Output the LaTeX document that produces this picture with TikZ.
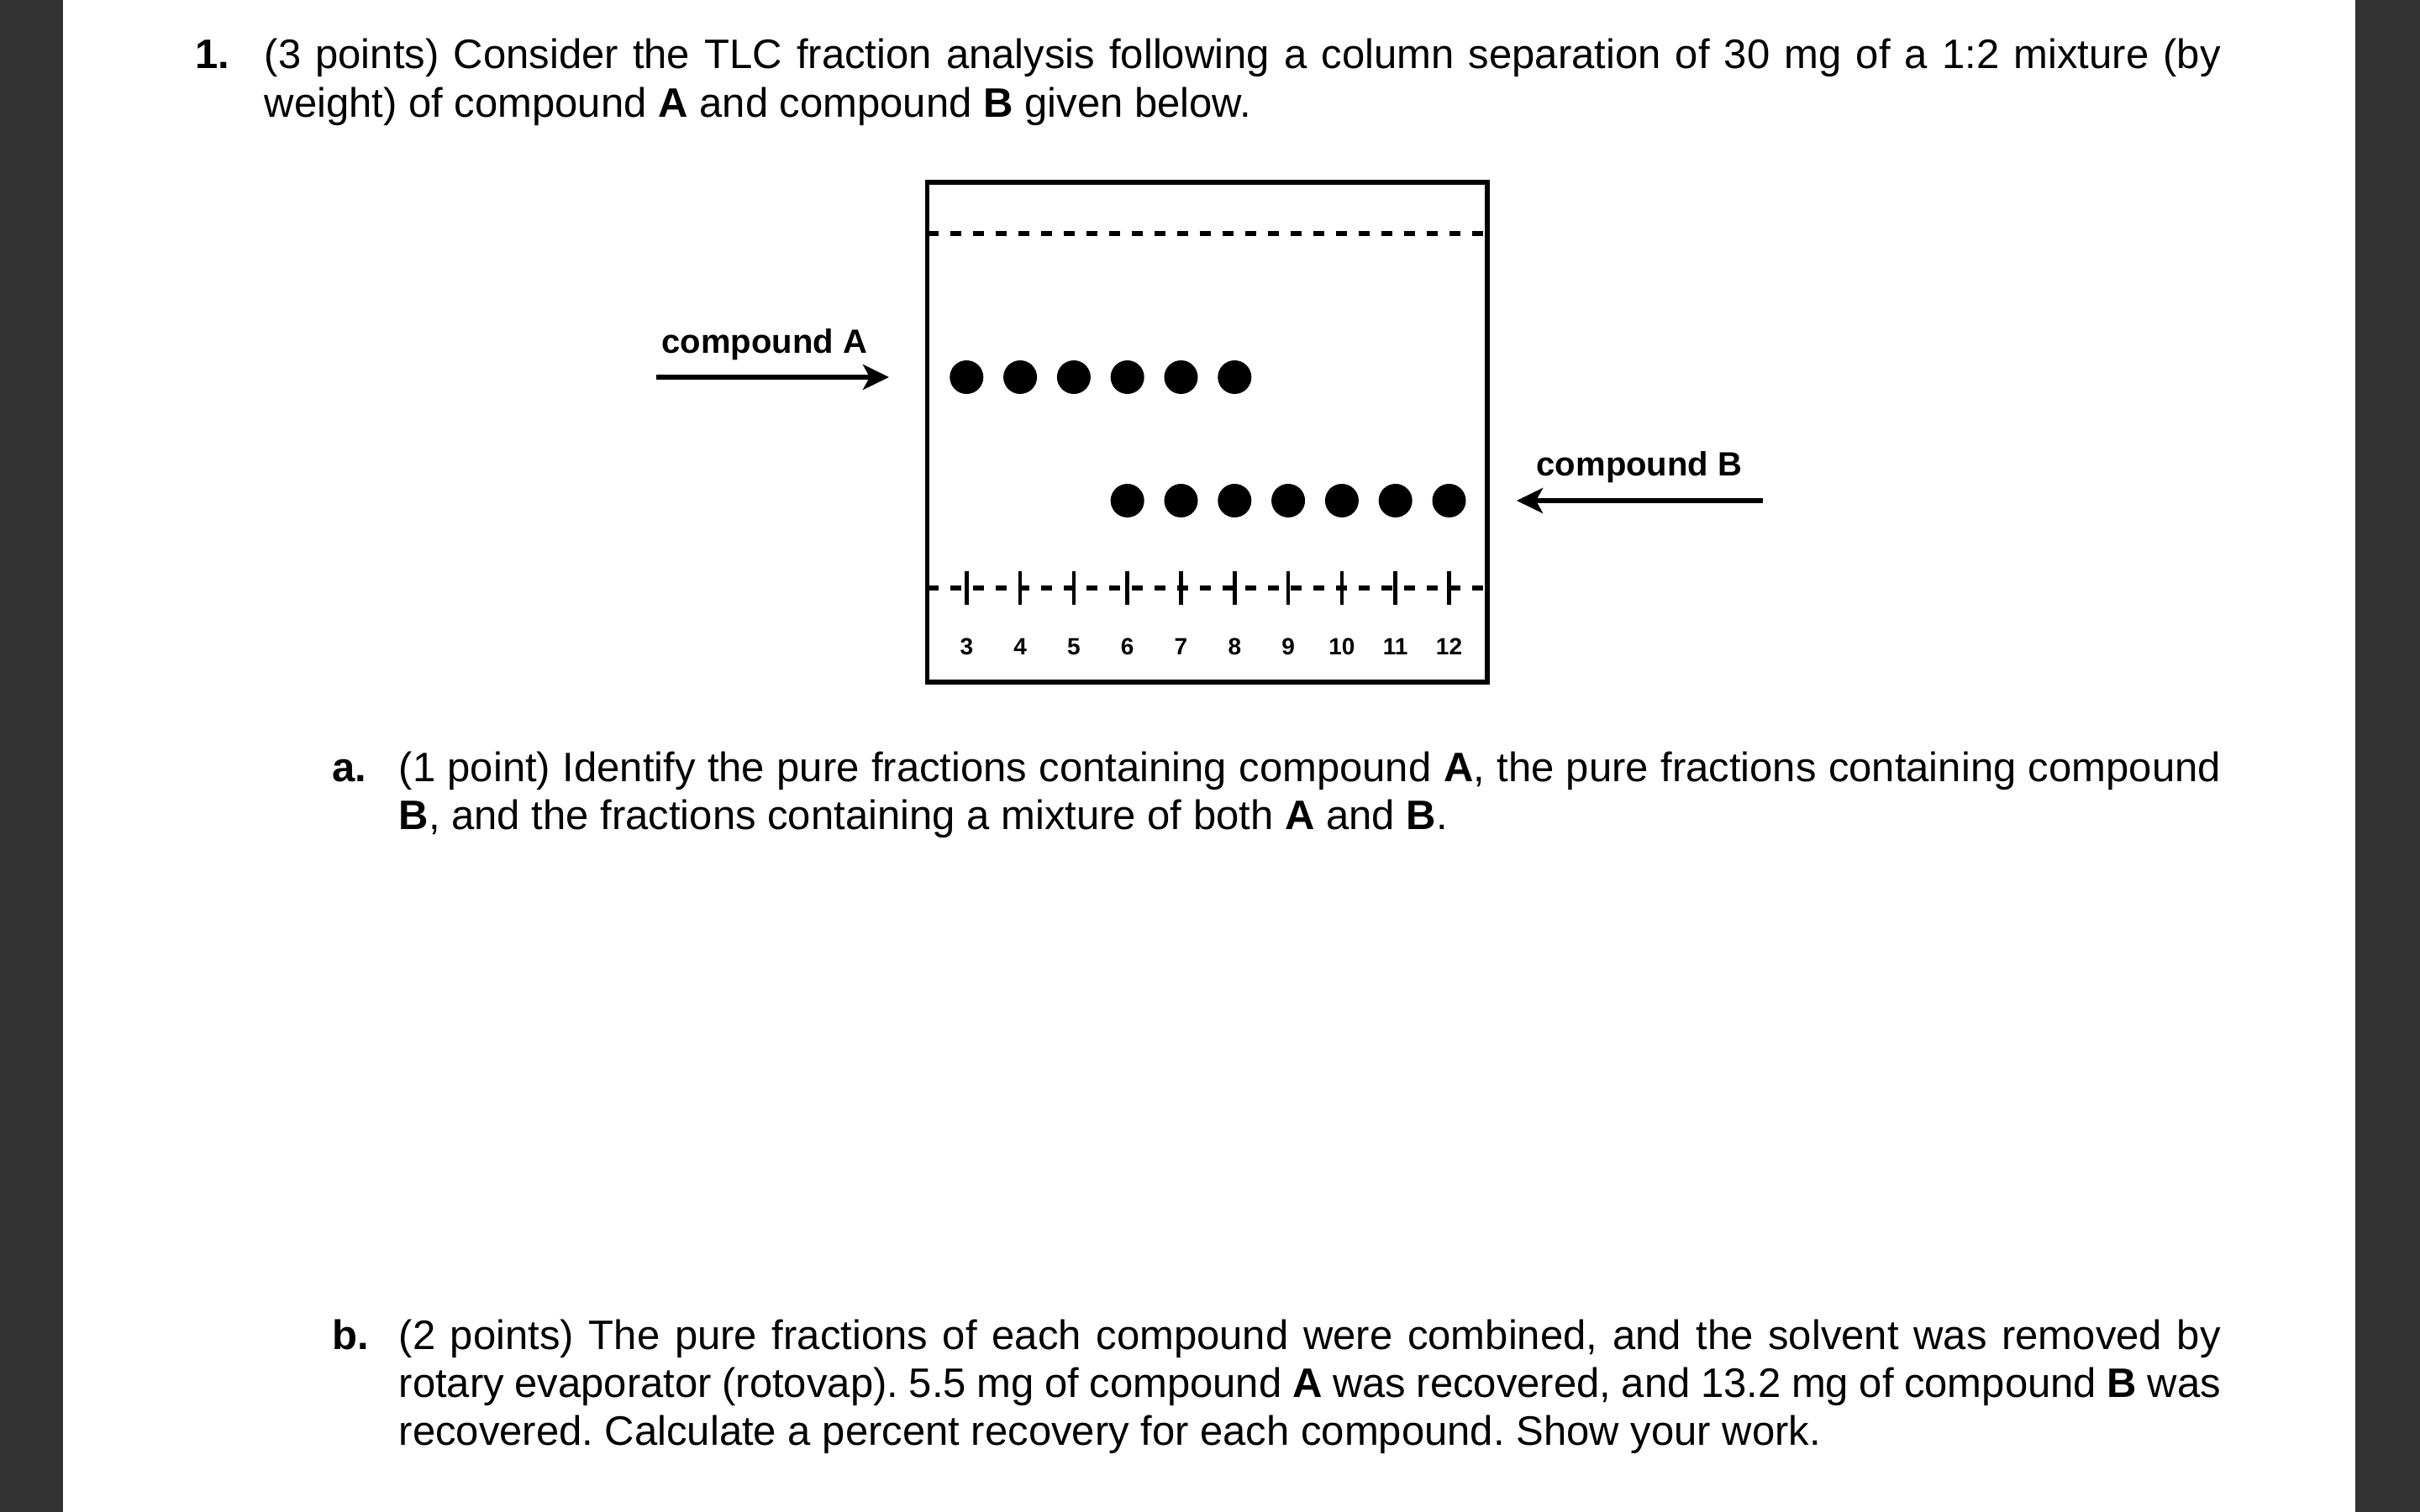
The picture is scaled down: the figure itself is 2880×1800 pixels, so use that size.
\documentclass[tikz,border=0pt]{standalone}
\usepackage{fontspec}
\setmainfont{Liberation Sans}
\usetikzlibrary{arrows.meta}
\hyphenpenalty=10000
\exhyphenpenalty=10000
\frenchspacing

\begin{document}
\begin{tikzpicture}[
  x=0.01cm, y=-0.01cm,
  >=Stealth,
  plate/.style={line width=1.5pt},
  front/.style={line width=1.45pt, dash pattern=on 1.3mm off 1.4mm},
  tickmark/.style={line width=1.35pt},
  spot/.style={circle, fill=black, inner sep=0pt, minimum size=4mm},
  lane/.style={font=\bfseries\fontsize{0.28cm}{0.34cm}\selectfont, inner sep=0pt},
  tag/.style={font=\bfseries\fontsize{0.40cm}{0.48cm}\selectfont, inner sep=0pt, anchor=base west},
  pointer/.style={-{Stealth[length=3.1mm, width=3mm, inset=0.8mm]}, line width=1.5pt},
  para/.style={font=\fontsize{0.49cm}{0.57cm}\selectfont, inner sep=0pt,
               anchor=base west, align=justify},
  num/.style={font=\bfseries\fontsize{0.49cm}{0.57cm}\selectfont, inner sep=0pt, anchor=base west}
]

% ----- page and side bars -----
\useasboundingbox (0,0) rectangle (2880,1800);
\fill[white] (0,0) rectangle (2880,1800);
\fill[black!80] (0,0) rectangle (75,1800);
\fill[black!80] (2803,0) rectangle (2880,1800);

% ----- question text -----
\node[num] (q1) at (232,82) {1.};
\node[para, text width=23.27cm] (q1text) at (314,82)
  {(3 points) Consider the TLC fraction analysis following a column separation of 30 mg of a 1:2 mixture (by\linebreak
   weight) of compound \textbf{A} and compound \textbf{B} given below.};

% ----- TLC plate -----
\def\xl{1103.5}
\def\xr{1770}
\def\yt{217}
\def\yb{812}
\def\ysolv{278}
\def\ybase{700}
\def\yA{449}
\def\yB{596}
\def\xzero{1150.3}
\def\dx{63.8}

\draw[plate] (\xl,\yt) rectangle (\xr,\yb);
\draw[front] (\xl,\ysolv) -- (\xr,\ysolv);
\draw[front] (\xl,\ybase) -- (\xr,\ybase);

% lanes: tick on the baseline and fraction number below
\foreach \k in {3,...,12} {
  \draw[tickmark] ({\xzero+(\k-3)*\dx}, \ybase-20) -- ++(0,40);
  \node[lane] (lane\k) at ({\xzero+(\k-3)*\dx}, 770) {\k};
}

% spots of compound A (fractions 3-8) and compound B (fractions 6-12)
\foreach \k in {3,...,8}
  \node[spot] (spotA\k) at ({\xzero+(\k-3)*\dx}, \yA) {};
\foreach \k in {6,...,12}
  \node[spot] (spotB\k) at ({\xzero+(\k-3)*\dx}, \yB) {};

% ----- labels with arrows -----
\node[tag] (tagA) at (787,420) {compound A};
\coordinate (tailA) at (781,\yA);
\coordinate (headA) at (1058,\yA);
\draw[pointer] (tailA) -- (headA);

\node[tag] (tagB) at (1828,566) {compound B};
\coordinate (tailB) at (2098,\yB);
\coordinate (headB) at (1805,\yB);
\draw[pointer] (tailB) -- (headB);

% ----- part a -----
\node[num] (qa) at (395,930) {a.};
\node[para, text width=21.67cm] (qatext) at (474,930)
  {(1 point) Identify the pure fractions containing compound \textbf{A}, the pure fractions containing compound\linebreak
   \textbf{B}, and the fractions containing a mixture of both \textbf{A} and \textbf{B}.};

% ----- part b -----
\node[num] (qb) at (395,1606) {b.};
\node[para, text width=21.67cm] (qbtext) at (474,1606)
  {(2 points) The pure fractions of each compound were combined, and the solvent was removed by\linebreak
   rotary evaporator (rotovap). 5.5 mg of compound \textbf{A} was recovered, and 13.2 mg of compound \textbf{B} was\linebreak
   recovered. Calculate a percent recovery for each compound. Show your work.};
\end{tikzpicture}
\end{document}
